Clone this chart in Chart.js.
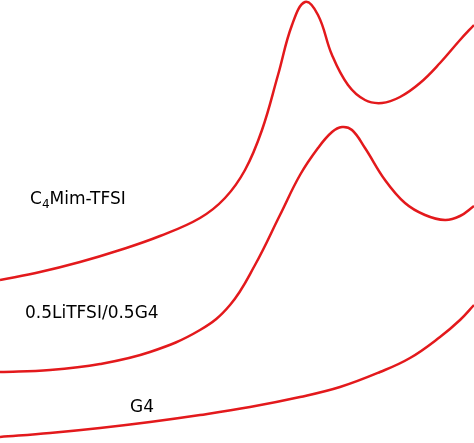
<!DOCTYPE html>
<html><head><meta charset="utf-8">
<script src="https://cdn.jsdelivr.net/npm/chart.js@4"></script>
<style>
html,body{margin:0;padding:0;background:#fff;overflow:hidden}
#wrap{position:relative;width:474px;height:443px}
.lbl{position:absolute;font-family:"DejaVu Sans",sans-serif;font-size:17px;color:#000;white-space:nowrap}
</style></head><body>
<div id="wrap"><canvas id="c" width="474" height="443"></canvas>
<div class="lbl" style="left:30px;top:188px">C<sub style="font-size:12px">4</sub>Mim-TFSI</div>
<div class="lbl" style="left:25px;top:302px">0.5LiTFSI/0.5G4</div>
<div class="lbl" style="left:130px;top:396px">G4</div>
</div>
<script>
const x1=[0,40,80,120,160,200,225,245,262,278,292,305,318,332,348,365,382,400,420,440,460,474];
const y1=[280,272,262,250,236,218,198,170,130,75,25,2,15,55,85,100,103,97,83,63,40,25];
const x2=[0,50,100,150,200,230,255,280,300,318,332,342,352,365,385,405,425,445,460,474];
const y2=[372,370,364,352,330,305,265,215,175,148,132,127,130,148,180,203,215,220,216,206];
const x3=[0,50,100,150,200,250,300,340,380,410,440,460,474];
const y3=[437,433,428,422,415,407,397,387,372,358,337,320,305];
const mk=(xs,ys)=>xs.map((x,i)=>({x:x,y:ys[i]}));
const ds=[[x1,y1],[x2,y2],[x3,y3]].map(([a,b])=>({data:mk(a,b),borderColor:'#e3191c',borderWidth:2.5,pointRadius:0,tension:0.4,fill:false}));
new Chart(document.getElementById('c'),{type:'line',data:{datasets:ds},
options:{responsive:false,animation:false,layout:{padding:0},
plugins:{legend:{display:false},tooltip:{enabled:false}},
scales:{x:{type:'linear',min:0,max:474,display:false},y:{min:0,max:443,reverse:true,display:false}}}});
</script></body></html>
